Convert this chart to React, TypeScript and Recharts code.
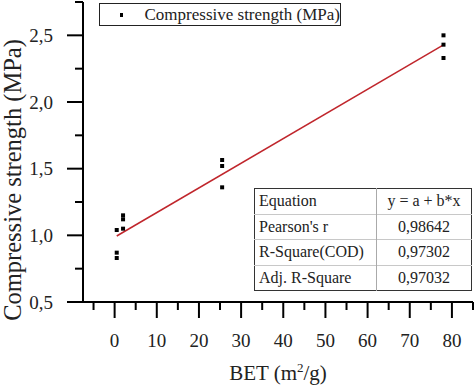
import { ScatterChart, Scatter, XAxis, YAxis, ReferenceLine, Label } from 'recharts';

// measured points, BET (m2/g) vs compressive strength (MPa)
const betValues = [0.5, 0.5, 0.5, 2, 2, 2, 25.5, 25.5, 25.5, 78, 78, 78];
const strengthValues = [1.04, 0.87, 0.83, 1.15, 1.12, 1.05, 1.565, 1.52, 1.36, 2.5, 2.43, 2.33];

// linear fit endpoints
const fitX = [0.5, 78];
const fitY = [0.995, 2.428];

const xTicks = [-5, 0, 5, 10, 15, 20, 25, 30, 35, 40, 45, 50, 55, 60, 65, 70, 75, 80, 85];
const yTicks = [0.5, 0.75, 1, 1.25, 1.5, 1.75, 2, 2.25, 2.5, 2.75];

const statNames = ['Equation', "Pearson's r", 'R-Square(COD)', 'Adj. R-Square'];
const statValues = ['y = a + b*x', '0,98642', '0,97302', '0,97032'];

const FONT = '"Liberation Serif", "Times New Roman", serif';
const txt = (size: number) => ({ fontFamily: FONT, fontSize: size, fill: '#222' });

const points = betValues.map((x, i) => ({ x, y: strengthValues[i] }));
const fitSegment = fitX.map((x, i) => ({ x, y: fitY[i] }));

function XTick({ x, y, payload }: any) {
  const v = payload.value;
  const major = v % 10 === 0;
  return (
    <g>
      <line x1={x} x2={x} y1={y} y2={y + (major ? 16 : 8)} stroke="#000" strokeWidth={2} />
      {major && (
        <text x={x} y={y + 45} textAnchor="middle" style={txt(19)}>
          {v}
        </text>
      )}
    </g>
  );
}

function YTick({ x, y, payload }: any) {
  const v = payload.value;
  const major = Math.abs(v * 2 - Math.round(v * 2)) < 1e-6;
  return (
    <g>
      <line x1={x} x2={x - (major ? 16 : 8)} y1={y} y2={y} stroke="#000" strokeWidth={2} />
      {major && (
        <text x={x - 30} y={y + 6.5} textAnchor="end" style={txt(19)}>
          {v.toFixed(1).replace('.', ',')}
        </text>
      )}
    </g>
  );
}

function Square({ cx, cy }: any) {
  return <rect x={cx - 2} y={cy - 2} width={4} height={4} fill="#000" />;
}

export default function App() {
  return (
    <div style={{ position: 'absolute', left: 0, top: 0, width: 474, height: 389, background: '#fff' }}>
      <ScatterChart width={474} height={389} margin={{ top: 2, right: 1, left: 0, bottom: 0 }}>
        <XAxis
          type="number"
          dataKey="x"
          domain={[-7.5, 85]}
          ticks={xTicks}
          interval={0}
          height={87}
          tickSize={0}
          tickMargin={0}
          tickLine={false}
          tick={<XTick />}
          stroke="#000"
          strokeWidth={2}
          allowDataOverflow
        >
          <Label
            content={() => (
              <text x={278} y={380} textAnchor="middle" style={txt(21)}>
                BET (m
                <tspan dy={-8} style={{ fontSize: 13 }}>2</tspan>
                <tspan dy={8}>/g)</tspan>
              </text>
            )}
          />
        </XAxis>
        <YAxis
          type="number"
          dataKey="y"
          domain={[0.5, 2.75]}
          ticks={yTicks}
          interval={0}
          width={83}
          tickSize={0}
          tickMargin={0}
          tickLine={false}
          tick={<YTick />}
          stroke="#000"
          strokeWidth={2}
          allowDataOverflow
        >
          <Label
            content={() => (
              <text x={21} y={180} transform="rotate(-90 21 180)" textAnchor="middle" style={txt(24.5)}>
                Compressive strength (MPa)
              </text>
            )}
          />
        </YAxis>
        <ReferenceLine segment={fitSegment} stroke="#c0262c" strokeWidth={1.5} ifOverflow="visible" />
        <Scatter data={points} shape={<Square />} isAnimationActive={false} />
      </ScatterChart>

      <div
        style={{
          position: 'absolute',
          left: 99,
          top: 3,
          width: 242,
          height: 23,
          boxSizing: 'border-box',
          border: '1.5px solid #222',
          fontFamily: FONT,
          fontSize: 17,
          color: '#222',
          display: 'flex',
          alignItems: 'center',
          whiteSpace: 'nowrap',
          background: '#fff',
        }}
      >
        <span style={{ display: 'inline-block', width: 4, height: 4, background: '#000', marginLeft: 20, marginRight: 22 }} />
        Compressive strength (MPa)
      </div>

      <table
        style={{
          position: 'absolute',
          left: 254,
          top: 188,
          width: 218,
          height: 102,
          borderCollapse: 'collapse',
          border: '1.5px solid #333',
          fontFamily: FONT,
          fontSize: 16,
          color: '#222',
          background: '#fff',
        }}
      >
        <tbody>
          {statNames.map((name, i) => (
            <tr key={name} style={{ height: 25.5 }}>
              <td style={{ width: 117, padding: '0 0 0 4px', borderTop: i ? '1px solid #c8c8c8' : undefined, borderRight: '1px solid #aaa', whiteSpace: 'nowrap' }}>
                {name}
              </td>
              <td style={{ padding: 0, textAlign: 'center', borderTop: i ? '1px solid #c8c8c8' : undefined }}>{statValues[i]}</td>
            </tr>
          ))}
        </tbody>
      </table>
    </div>
  );
}
